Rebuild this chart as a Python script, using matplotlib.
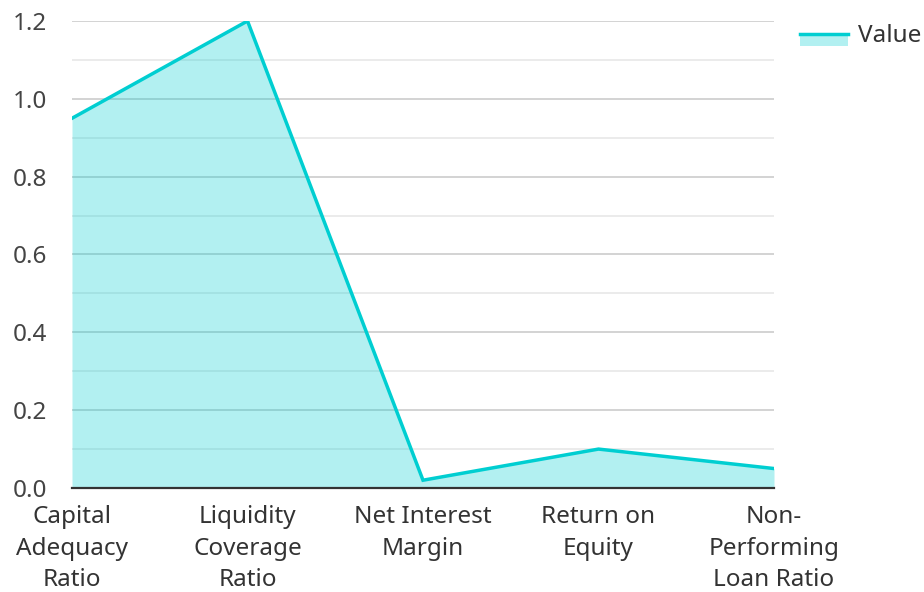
import matplotlib
matplotlib.use("Agg")
import matplotlib.pyplot as plt
from matplotlib.legend_handler import HandlerBase
from matplotlib.patches import Rectangle
from matplotlib.lines import Line2D
from matplotlib.ticker import MultipleLocator, FormatStrFormatter

categories = ["Capital\nAdequacy\nRatio", "Liquidity\nCoverage\nRatio", "Net Interest\nMargin",
              "Return on\nEquity", "Non-\nPerforming\nLoan Ratio"]
values = [0.95, 1.2, 0.02, 0.1, 0.05]
series_name = "Value"

LINE = "#00CED1"
FILL_ALPHA = 0.3
FS = 17.5

plt.rcParams["font.family"] = ["Noto Sans", "DejaVu Sans"]

fig = plt.figure(figsize=(9.24, 5.92), dpi=100)
ax = fig.add_axes([72/924, 1-488/592, (774-72)/924, (488-21)/592])

x = list(range(len(categories)))
ax.fill_between(x, values, 0, color=LINE, alpha=FILL_ALPHA, zorder=3, linewidth=0)
ax.plot(x, values, color=LINE, linewidth=2.5, zorder=4, solid_joinstyle="miter")

ax.set_xlim(0, len(categories) - 1)
ax.set_ylim(0, 1.2)
ax.yaxis.set_major_locator(MultipleLocator(0.2))
ax.yaxis.set_minor_locator(MultipleLocator(0.1))
ax.yaxis.set_major_formatter(FormatStrFormatter("%.1f"))
ax.set_axisbelow(True)
ax.grid(True, which="major", axis="y", color="#c8c8c8", linewidth=1.1)
ax.grid(True, which="minor", axis="y", color="#e6e6e6", linewidth=1.1)

ax.set_xticks(x)
ax.set_xticklabels(categories, fontsize=FS, color="#333333", linespacing=1.4)
ax.tick_params(axis="both", which="both", length=0)
ax.tick_params(axis="x", pad=12.5)
ax.tick_params(axis="y", labelsize=FS, labelcolor="#444444", pad=18)

for s in ["top", "right", "left"]:
    ax.spines[s].set_visible(False)
ax.spines["bottom"].set_color("#333333")
ax.spines["bottom"].set_linewidth(1.6)
ax.spines["bottom"].set_zorder(5)


class AreaHandler(HandlerBase):
    def create_artists(self, legend, orig_handle, xdescent, ydescent, width, height, fontsize, trans):
        r = Rectangle((-xdescent, -ydescent - 0.22 * height), width, 0.62 * height,
                      facecolor=LINE, alpha=FILL_ALPHA, edgecolor="none", transform=trans)
        ln = Line2D([-xdescent, -xdescent + width], [-ydescent + 0.48 * height] * 2,
                    color=LINE, linewidth=2.5, transform=trans)
        return [r, ln]


handle = Rectangle((0, 0), 1, 1)
leg = fig.legend([handle], [series_name], handler_map={Rectangle: AreaHandler()},
                 loc="upper left", bbox_to_anchor=(800/924, 1-24/592), frameon=False,
                 borderpad=0, borderaxespad=0,
                 fontsize=FS, handlelength=1.98, handleheight=0.7, handletextpad=0.41,
                 labelcolor="#333333")

fig.savefig("out.png", dpi=100)
